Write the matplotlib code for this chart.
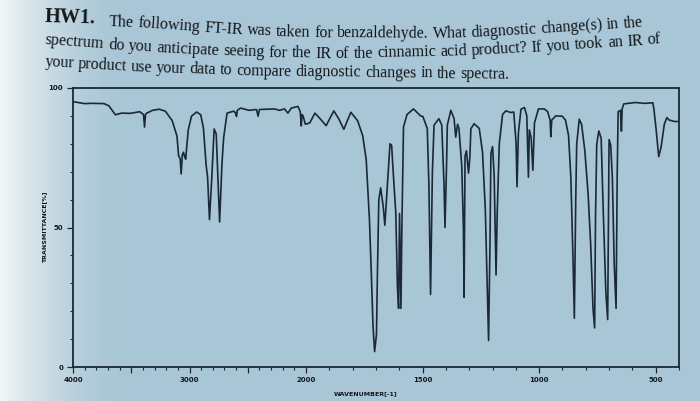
import numpy as np
import matplotlib
matplotlib.use("Agg")
import matplotlib.pyplot as plt
from matplotlib.ticker import FixedLocator

# benzaldehyde FT-IR, values
wavenumber = [3990, 3983, 3900, 3845, 3733, 3692, 3636, 3583, 3511, 3428, 3395, 3386, 3378,
              3367, 3317, 3261, 3208, 3150, 3108, 3094, 3080, 3072, 3062, 3052, 3043, 3033,
              3011, 2983, 2939, 2904, 2881, 2858, 2845, 2829, 2809, 2789, 2771, 2757, 2742,
              2722, 2707, 2678, 2620, 2605, 2597, 2590, 2562, 2489, 2425, 2412, 2400, 2272,
              2228, 2185, 2156, 2127, 2070, 2050, 2041, 2035, 2026, 2006, 1991, 1984, 1962,
              1940, 1914, 1881, 1860, 1838, 1808, 1779, 1757, 1742, 1728, 1720, 1713, 1706,
              1698, 1694, 1688, 1680, 1669, 1662, 1655, 1640, 1633, 1626, 1615, 1608, 1603,
              1599, 1593, 1589, 1582, 1567, 1539, 1509, 1499, 1480, 1473, 1466, 1458, 1451,
              1430, 1418, 1408, 1404, 1398, 1394, 1379, 1365, 1358, 1350, 1344, 1332, 1325,
              1322, 1318, 1312, 1307, 1303, 1297, 1293, 1279, 1257, 1243, 1231, 1224, 1217,
              1211, 1207, 1200, 1193, 1185, 1180, 1171, 1157, 1143, 1121, 1109, 1099, 1095,
              1089, 1078, 1063, 1053, 1046, 1042, 1034, 1027, 1020, 1003, 978, 964, 953, 950,
              946, 929, 901, 887, 874, 864, 855, 849, 843, 839, 828, 818, 804, 790, 779, 769,
              762, 758, 753, 744, 734, 725, 714, 706, 700, 693, 686, 678, 670, 665, 661, 651,
              647, 644, 637, 588, 546, 512, 507, 498, 487, 477, 463, 452, 442, 420, 405]
transmittance = [95.0, 95.0, 94.4, 94.5, 94.4, 93.6, 90.4, 91.0, 90.9, 91.5, 90.5, 86.0, 90.5,
                 91.0, 92.0, 92.4, 91.7, 88.4, 82.8, 75.8, 74.5, 69.2, 76.0, 77.0, 75.5, 74.5,
                 85.0, 89.9, 91.4, 90.4, 85.7, 72.5, 68.0, 52.8, 67.9, 85.3, 83.5, 68.0, 52.0,
                 72.8, 82.3, 91.0, 91.7, 91.0, 89.8, 92.0, 92.8, 92.0, 92.3, 89.9, 92.3, 92.5,
                 92.0, 92.5, 91.0, 92.8, 93.4, 91.5, 86.4, 90.5, 90.0, 87.0, 87.3, 87.5, 91.0,
                 89.0, 86.5, 91.8, 89.0, 85.2, 91.3, 88.3, 82.9, 74.3, 52.6, 33.3, 15.2, 5.5,
                 11.6, 33.0, 59.9, 64.2, 57.5, 50.8, 60.0, 80.0, 79.5, 69.6, 55.0, 28.5, 21.0,
                 55.0, 21.0, 50.0, 86.0, 90.5, 92.5, 90.0, 89.8, 85.5, 65.0, 26.0, 70.0, 86.7,
                 89.0, 86.7, 65.0, 50.0, 70.0, 86.7, 92.0, 89.0, 82.4, 87.0, 85.5, 72.0, 49.5,
                 25.0, 75.6, 77.5, 73.0, 69.5, 75.6, 85.4, 87.2, 85.5, 77.0, 56.5, 32.5, 9.5,
                 44.0, 76.5, 79.0, 68.5, 33.0, 55.0, 80.0, 90.5, 91.8, 91.2, 91.4, 80.2, 64.6,
                 84.0, 92.4, 93.0, 90.0, 68.0, 85.0, 82.0, 70.5, 87.5, 92.5, 92.5, 91.6, 88.5, 82.5,
                 88.5, 90.0, 89.9, 88.5, 83.0, 68.0, 39.5, 17.5, 60.0, 79.8, 88.8, 87.0, 77.5, 62.0,
                 44.0, 21.0, 14.0, 55.0, 79.8, 84.6, 82.0, 56.0, 27.0, 17.0, 81.5, 79.5, 68.0,
                 37.0, 21.0, 70.0, 91.5, 92.0, 84.5, 92.5, 94.3, 94.8, 94.5, 94.7, 92.0, 85.0,
                 75.4, 78.7, 87.0, 89.4, 88.5, 88.0, 88.0]

x_major = [4000, 3500, 3000, 2500, 2000, 1500, 1000, 500]
x_major_labels = ["4000", "", "3000", "", "2000", "1500", "1000", "500"]
x_minor = list(range(400, 4001, 100))
y_major = [0, 50, 100]
y_major_labels = ["0", "50", "100"]
y_minor = list(range(0, 101, 10))

title_word = "HW1."
line1 = "The following FT-IR was taken for benzaldehyde. What diagnostic change(s) in the"
line2 = "spectrum do you anticipate seeing for the IR of the cinnamic acid product? If you took an IR of"
line3 = "your product use your data to compare diagnostic changes in the spectra."

W, H = 700, 401
ink = "#13171c"
pen = "#1b2836"
serif = "Liberation Serif"

fig = plt.figure(figsize=(W / 100, H / 100), dpi=100)

# paper background with the glare on the left
bg = fig.add_axes([0, 0, 1, 1], zorder=-10)
bg.axis("off")
xs = np.linspace(0, W, W)
glare = np.clip(1 - xs / 120, 0, 1) ** 1.6
blue = np.array([0.665, 0.780, 0.840])
white = np.array([0.95, 0.965, 0.97])
img = blue[None, :] * (1 - glare[:, None]) + white[None, :] * glare[:, None]
bg.imshow(img[None, :, :], aspect="auto", extent=[0, 1, 0, 1])
bg.set_xlim(0, 1)
bg.set_ylim(0, 1)

# header text, bent like the photographed page
renderer = fig.canvas.get_renderer()


def text_width(s, size, weight="normal"):
    t = fig.text(0, 0, s, fontsize=size, fontweight=weight, family=serif)
    w = t.get_window_extent(renderer).width
    t.remove()
    return w


def place_words(line, x_start, x_end, cx, cy, size=None, weight="normal"):
    if size is None:
        size = 10 * (x_end - x_start) / text_width(line, 10, weight)
    items = []
    for wd in line.split():
        t = fig.text(0, 0, wd, fontsize=size, fontweight=weight, family=serif,
                     color=ink, ha="left", va="baseline", rotation_mode="anchor")
        items.append((t, t.get_window_extent(renderer).width))
    total = sum(w for _, w in items)
    gap = (x_end - x_start - total) / max(len(items) - 1, 1)
    x = x_start
    for t, w in items:
        yl = np.interp(x, cx, cy)
        yr = np.interp(x + w, cx, cy)
        t.set_position((x / W, 1 - yl / H))
        t.set_rotation(-np.degrees(np.arctan2(yr - yl, w)))
        x += w + gap


place_words(title_word, 45, 101, [45, 101], [22.5, 24.0], size=14.5, weight="bold")
place_words(line1, 109, 643,
            [100, 150, 210, 270, 370, 450, 500, 580, 643],
            [25.5, 27.5, 32, 35.5, 38, 38, 35.5, 31, 26])
place_words(line2, 45, 661,
            [45, 110, 170, 240, 330, 420, 490, 560, 661],
            [44.5, 49, 52.5, 56, 58, 57, 54.5, 50, 43.5])
place_words(line3, 45, 509,
            [45, 140, 260, 400, 510],
            [66, 71, 76, 77, 79])

# spectrum
ax = fig.add_axes([73 / W, 1 - 367 / H, (679 - 73) / W, (367 - 88) / H])
ax.patch.set_alpha(0)


def fwd(w):
    w = np.asarray(w, dtype=float)
    return np.where(w > 2000, 2000 + (w - 2000) / 2, w)


def inv(v):
    v = np.asarray(v, dtype=float)
    return np.where(v > 2000, 2000 + (v - 2000) * 2, v)


ax.set_xscale("function", functions=(fwd, inv))
ax.plot(wavenumber, transmittance, color=pen, lw=1.2)
ax.set_xlim(4000, 400)
ax.set_ylim(0, 100)

ax.set_xticks(x_major, x_major_labels)
ax.xaxis.set_minor_locator(FixedLocator(x_minor))
ax.set_yticks(y_major, y_major_labels)
ax.yaxis.set_minor_locator(FixedLocator(y_minor))

for s in ax.spines.values():
    s.set_color(pen)
    s.set_linewidth(1.3)
ax.tick_params(which="major", length=4.5, width=0.9, color=pen, labelsize=5,
               labelcolor=ink, pad=2.5)
ax.tick_params(which="minor", length=2.5, width=0.8, color=pen)
for lab in ax.get_xticklabels() + ax.get_yticklabels():
    lab.set_fontweight("bold")

ax.set_xlabel("WAVENUMBER[-1]", fontsize=4.5, fontweight="bold", color=ink)
ax.set_ylabel("TRANSMITTANCE[%]", fontsize=4.5, fontweight="bold", color=ink)
ax.xaxis.set_label_coords(0.483, -0.085)
ax.yaxis.set_label_coords(-0.042, 0.5)

fig.savefig("out.png", dpi=100)
